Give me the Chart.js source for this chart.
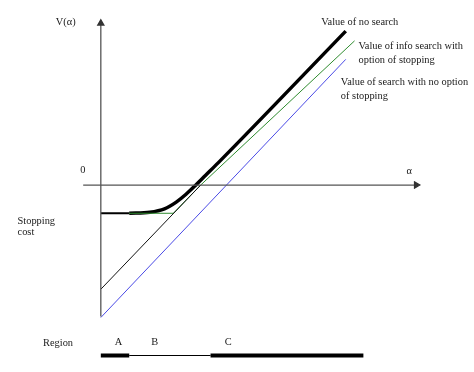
<!DOCTYPE html>
<html>
<head>
<meta charset="utf-8">
<script src="https://cdn.jsdelivr.net/npm/chart.js@4"></script>
<style>
  html, body { margin: 0; padding: 0; background: #fff; }
  #wrap { width: 474px; height: 372px; }
</style>
</head>
<body>
<div id="wrap"><canvas id="chart" width="474" height="372"></canvas></div>
<script>
// Values (alpha on x, V(alpha) on y)
const noSearchAlpha = [0, 10.2];
const noSearchValue = [-10.7, 0];

const stopFlatAlpha = [0, 2.9];
const stopFlatValue = [-2.9, -2.9];

const envelopeAlpha = [2.9, 5.0, 6.5, 7.7, 8.7, 9.7, 10.7, 12.0, 25.0];
const envelopeValue = [-2.9, -2.8, -2.45, -1.75, -0.95, 0.0, 1.0, 2.3, 15.8];

const infoSearchAlpha = [2.9, 7.4, 10.2, 25.9];
const infoSearchValue = [-2.9, -2.9, 0, 14.8];

const noOptionAlpha = [0, 25.0];
const noOptionValue = [-13.6, 12.9];

// axes of the sketch
const yAxisAlpha = [0, 0];
const yAxisValue = [-13.5, 16.6];
const xAxisAlpha = [-1.8, 32.2];
const xAxisValue = [0, 0];

// region strip below the plot
const regionNames = ['A', 'B', 'C'];
const regionBounds = [0, 2.9, 11.2, 26.8];
const regionLevel = -17.5;

function points(xs, ys) {
  return xs.map((x, i) => ({ x: x, y: ys[i] }));
}

const serif = '"Liberation Serif", "DejaVu Serif", serif';
const ink = '#1a1a1a';

// Text notes, placed in data units
const notes = [
  { text: 'V(\u03b1)', x: -4.6, y: 16.7 },
  { text: '0', x: -2.1, y: 1.5 },
  { text: '\u03b1', x: 31.2, y: 1.4 },
  { text: 'Value of no search', x: 22.5, y: 16.7 },
  { text: 'Value of info search with', x: 26.3, y: 14.2 },
  { text: 'option of stopping', x: 26.3, y: 12.8 },
  { text: 'Value of search with no option', x: 24.5, y: 10.5 },
  { text: 'of stopping', x: 24.5, y: 9.1 },
  { text: 'Stopping', x: -8.5, y: -3.7 },
  { text: 'cost', x: -8.5, y: -4.9 },
  { text: 'Region', x: -5.9, y: -16.2 }
];

const notesPlugin = {
  id: 'notes',
  afterDatasetsDraw(chart) {
    const ctx = chart.ctx;
    const xs = chart.scales.x;
    const ys = chart.scales.y;
    ctx.save();
    ctx.fillStyle = ink;
    ctx.font = '10.4px ' + serif;
    ctx.textBaseline = 'middle';
    ctx.textAlign = 'left';
    notes.forEach(n => {
      ctx.fillText(n.text, xs.getPixelForValue(n.x), ys.getPixelForValue(n.y));
    });
    // region letters centred above their segments
    ctx.textAlign = 'center';
    const letterX = [1.8, 5.5, 13.0];
    regionNames.forEach((name, i) => {
      ctx.fillText(name, xs.getPixelForValue(letterX[i]), ys.getPixelForValue(-16.1));
    });
    ctx.restore();
  }
};

// region strip: thick, thin, thick
const regionSets = regionNames.map((name, i) => ({
  label: 'Region ' + name,
  data: points([regionBounds[i], regionBounds[i + 1]], [regionLevel, regionLevel]),
  borderColor: '#000',
  borderWidth: i === 1 ? 1 : 4,
  borderCapStyle: 'butt'
}));

const datasets = [
  {
    label: 'y axis',
    data: points(yAxisAlpha, yAxisValue),
    borderColor: '#555',
    borderWidth: 1.3,
    pointStyle: 'triangle',
    pointRadius: [0, 3.5],
    pointRotation: 0,
    backgroundColor: '#333',
    pointBorderColor: '#333'
  },
  {
    label: 'x axis',
    data: points(xAxisAlpha, xAxisValue),
    borderColor: '#555',
    borderWidth: 1.3,
    pointStyle: 'triangle',
    pointRadius: [0, 3.5],
    pointRotation: 90,
    backgroundColor: '#333',
    pointBorderColor: '#333'
  },
  {
    label: 'Value of search with no option of stopping',
    data: points(noOptionAlpha, noOptionValue),
    borderColor: '#4a4ae6',
    borderWidth: 1
  },
  {
    label: 'No search (thin)',
    data: points(noSearchAlpha, noSearchValue),
    borderColor: '#111',
    borderWidth: 1
  },
  {
    label: 'Value of info search with option of stopping',
    data: points(infoSearchAlpha, infoSearchValue),
    borderColor: '#2e8b2e',
    borderWidth: 1
  },
  {
    label: 'Stopping cost',
    data: points(stopFlatAlpha, stopFlatValue),
    borderColor: '#000',
    borderWidth: 2
  },
  {
    label: 'Value of no search',
    data: points(envelopeAlpha, envelopeValue),
    borderColor: '#000',
    borderWidth: 3.5,
    cubicInterpolationMode: 'monotone'
  },
  ...regionSets
];

datasets.forEach(d => {
  d.showLine = true;
  d.fill = false;
  if (d.pointRadius === undefined) d.pointRadius = 0;
  d.pointHoverRadius = 0;
});

new Chart(document.getElementById('chart').getContext('2d'), {
  type: 'scatter',
  data: { datasets: datasets },
  options: {
    responsive: false,
    animation: false,
    layout: { padding: 0 },
    plugins: {
      legend: { display: false },
      tooltip: { enabled: false }
    },
    scales: {
      x: { type: 'linear', display: false, min: -9.8, max: 37.6 },
      y: { type: 'linear', display: false, min: -18.7, max: 18.5 }
    }
  },
  plugins: [notesPlugin]
});
</script>
</body>
</html>
